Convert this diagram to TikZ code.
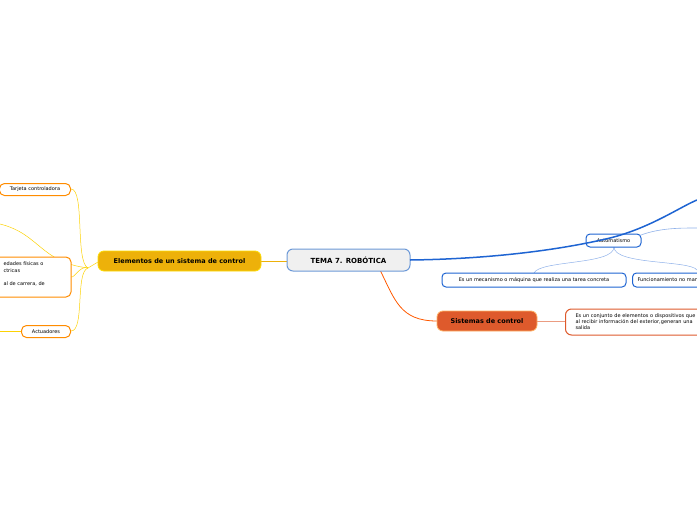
\documentclass[tikz,border=0pt]{standalone}
\usepackage{fontspec}
\setmainfont{DejaVu Sans}
\definecolor{bl}{HTML}{1E64D2}
\definecolor{gold}{HTML}{EDB10A}
\definecolor{rd}{HTML}{DE5A2C}
\begin{document}
\begin{tikzpicture}[x=1pt,y=-1pt,
 sm/.style={font=\fontsize{5}{6}\selectfont},
 ybox/.style={draw=orange!90!yellow,line width=1pt,rounded corners=5pt,fill=white},
 bbox/.style={draw=bl,line width=1pt,rounded corners=4pt,fill=white},
 rbox/.style={draw=rd,line width=1pt,rounded corners=6pt,fill=white},
 yl/.style={draw=yellow!70!orange,line width=0.5pt}]
\useasboundingbox (0,0) rectangle (697,520);
\clip (0,0) rectangle (697,520);
% connectors left
\coordinate (hub) at (88,268);
\coordinate (crv) at (0,224);
\draw[yl] (98,262) -- (hub);
\draw[yl] (hub) .. controls (75,262) and (85,189) .. (71,189);
\draw[yl] (hub) .. controls (80,265) and (75,278) .. (71,277);
\draw[yl] (hub) .. controls (75,272) and (85,331) .. (71,331);
\draw[yl] (crv) .. controls (40,234) and (40,262) .. (hub);
\draw[yl] (22,331) -- (0,331);
% boxes left
\node[ybox,minimum width=71pt,minimum height=12pt,sm,anchor=north east] (tar) at (71,183) {Tarjeta controladora};
\draw[ybox] (-20,257) rectangle (71,297);
\node[sm,anchor=west] (s1) at (0,264) {edades físicas o};
\node[sm,anchor=west] (s2) at (0,270.5) {ctricas};
\node[sm,anchor=west] (s3) at (0,284) {al de carrera, de};
\node[ybox,minimum width=49pt,minimum height=12pt,sm,anchor=north east] (act) at (71,325) {Actuadores};
% central
\draw[gold,line width=1pt] (261,261) -- (287,261);
\node[draw=yellow!80!orange,line width=0.8pt,rounded corners=6pt,fill=gold,minimum width=163pt,minimum height=20pt,font=\fontsize{6.5}{8}\selectfont\bfseries] (ele) at (179.5,261) {Elementos de un sistema de control};
\draw[orange!70!red,line width=0.8pt] (380,270) .. controls (395,300) and (400,321) .. (437,321);
\node[draw=cyan!50!blue!60,line width=1pt,rounded corners=6pt,fill=gray!12,minimum width=123pt,minimum height=22pt,font=\fontsize{7}{8}\selectfont\bfseries] (tema) at (348.5,260) {TEMA 7. ROBÓTICA};
% Automatismo
\draw[bl!50,line width=0.6pt] (641,235) .. controls (660,228) and (680,228) .. (697,228);
\draw[bl!50,line width=0.5pt] (614,247) .. controls (614,265) and (540,260) .. (534,273);
\draw[bl!50,line width=0.5pt] (614,247) .. controls (614,265) and (690,260) .. (697,270);
\node[bbox,minimum width=55pt,minimum height=13pt,sm] (aut) at (613.5,240.5) {Automatismo};
\draw[bl,line width=1.5pt] (410,260) .. controls (490,259) and (560,250) .. (610,238) .. controls (650,228) and (680,207) .. (697,200);
\node[bbox,minimum width=184pt,minimum height=14pt,sm] (mec) at (534,280) {Es un mecanismo o máquina que realiza una tarea concreta};
\node[bbox,minimum width=100pt,minimum height=14pt,sm,anchor=west,text width=90pt,align=left] (fun) at (632,280) {Funcionamiento no manual};
% Sistemas de control
\draw[rd!60,line width=0.6pt] (537,321) -- (565,321);
\node[draw=orange!60,line width=0.8pt,rounded corners=6pt,fill=rd,minimum width=100pt,minimum height=20pt,font=\fontsize{6.5}{8}\selectfont\bfseries] (sis) at (487,321) {Sistemas de control};
\node[rbox,minimum width=170pt,minimum height=26pt,anchor=west,sm,text width=150pt,align=left] (con) at (565,322) {Es un conjunto de elementos o dispositivos que\\al recibir información del exterior,generan una\\salida};
\end{tikzpicture}
\end{document}
